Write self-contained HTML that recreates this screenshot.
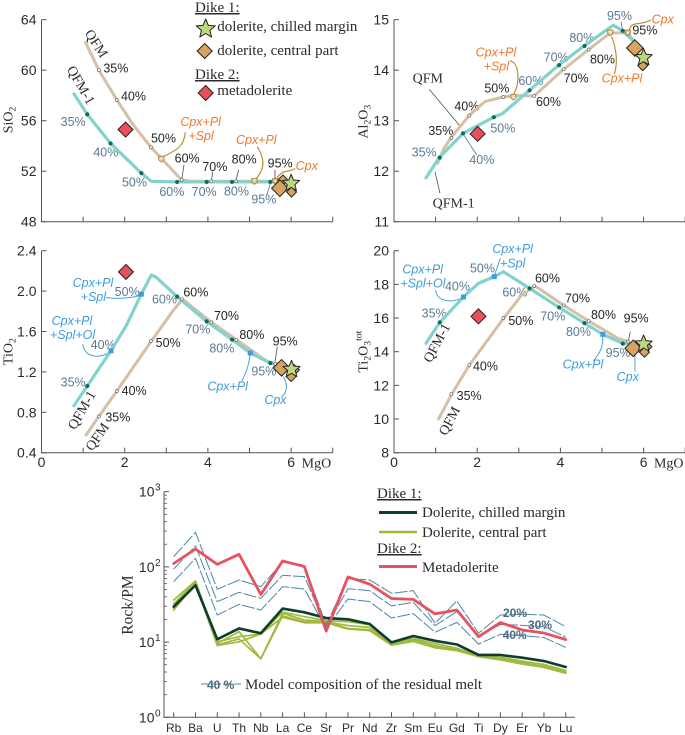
<!DOCTYPE html>
<html><head><meta charset="utf-8"><title>Dike petrochemistry chart</title>
<style>
html,body{margin:0;padding:0;background:#fff;width:685px;height:735px;overflow:hidden}
svg{display:block}
text{font-family:"Liberation Sans",sans-serif}
.s,.s text{font-family:"Liberation Serif",serif;fill:#2b2b2b}
.k text{font-size:37.5px;fill:#262626}
.g text{font-size:37.5px;fill:#5b7a92}
.o text{font-size:37.5px;font-style:italic;fill:#f0782d}
.b text{font-size:37.5px;font-style:italic;fill:#3e9ddb}
.n{font-family:"Liberation Serif",serif;font-size:42px;fill:#2b2b2b}
.brown{fill:none;stroke:#b98a33;stroke-width:3.5}
.blue{fill:none;stroke:#4aa3dc;stroke-width:3}
.thin{fill:none;stroke:#555;stroke-width:2.5}
.thing{fill:none;stroke:#5b7a92;stroke-width:2.5}
</style></head>
<body>
<svg id="chart" xmlns="http://www.w3.org/2000/svg" width="685" height="735" viewBox="0 0 685 735">

<!-- top legend -->
<g class="s" font-size="15">
<text x="195" y="12" text-decoration="underline">Dike 1:</text>
<text x="217.3" y="31">dolerite, chilled margin</text>
<text x="217.3" y="55">dolerite, central part</text>
<text x="195" y="79" text-decoration="underline">Dike 2:</text>
<text x="217.3" y="95">metadolerite</text>
</g>

<!-- SiO2 annotations -->
<g transform="scale(.33333)">
<text class="n" transform="translate(38,360) rotate(-90)" text-anchor="middle">SiO<tspan font-size="29" dy="8">2</tspan></text>
<text class="n" transform="translate(278,138) rotate(57)" text-anchor="middle">QFM</text>
<text class="n" transform="translate(231,262) rotate(60)" text-anchor="middle">QFM-1</text>
<path class="brown" d="M490 470C530 450 552 440 556 397"/>
<path class="brown" d="M768 537C800 500 790 470 772 440"/>
<path class="brown" d="M830 535C850 505 865 520 885 505"/>
<path class="thin" d="M545 540L552 495M635 540L638 515M708 540L716 510M825 540L825 510"/>
<path class="thing" d="M812 548L800 585"/>
<g class="k">
<text x="310" y="218">35%</text><text x="363" y="302">40%</text><text x="453" y="427">50%</text><text x="524" y="487">60%</text><text x="607" y="513">70%</text><text x="695" y="490">80%</text><text x="803" y="503">95%</text></g>
<g class="g">
<text x="182" y="378">35%</text><text x="280" y="470">40%</text><text x="366" y="560">50%</text><text x="478" y="588">60%</text><text x="575" y="588">70%</text><text x="672" y="586">80%</text><text x="754" y="610">95%</text></g>
<g class="o">
<text x="541" y="378">Cpx+Pl</text><text x="565" y="420">+Spl</text><text x="708" y="432">Cpx+Pl</text><text x="887" y="510">Cpx</text></g>
</g>

<!-- Al2O3 annotations -->
<g transform="translate(345,0) scale(.33333)">
<text class="n" transform="translate(68,365) rotate(-90)" text-anchor="middle">Al<tspan font-size="29" dy="8">2</tspan><tspan dy="-8">O</tspan><tspan font-size="29" dy="8">3</tspan></text>
<text class="n" x="203" y="248">QFM</text>
<text class="n" x="263" y="622">QFM-1</text>
<path class="thin" d="M253 268L345 378M270 515L285 580"/>
<path class="thing" d="M354 401L395 465M833 94L828 65"/>
<path class="brown" d="M505 285C525 250 525 190 495 182"/>
<path class="brown" d="M800 110C815 150 818 190 808 222"/>
<path class="brown" d="M852 92C860 60 880 80 918 60"/>
<g class="k">
<text x="250" y="405">35%</text><text x="328" y="332">40%</text><text x="418" y="277">50%</text><text x="573" y="318">60%</text><text x="656" y="248">70%</text><text x="735" y="190">80%</text><text x="862" y="104">95%</text></g>
<g class="g">
<text x="200" y="470">35%</text><text x="373" y="492">40%</text><text x="436" y="397">50%</text><text x="520" y="255">60%</text><text x="596" y="185">70%</text><text x="673" y="126">80%</text><text x="786" y="60">95%</text></g>
<g class="o">
<text x="392" y="170">Cpx+Pl</text><text x="416" y="212">+Spl</text><text x="770" y="248">Cpx+Pl</text><text x="920" y="70">Cpx</text></g>
</g>

<!-- TiO2 annotations -->
<g transform="translate(0,235) scale(.33333)">
<text class="n" transform="translate(38,350) rotate(-90)" text-anchor="middle">TiO<tspan font-size="29" dy="8">2</tspan></text>
<text class="n" transform="translate(257,532) rotate(-60)" text-anchor="middle">QFM-1</text>
<text class="n" transform="translate(303,613) rotate(-55)" text-anchor="middle">QFM</text>
<text class="n" x="905" y="697">MgO</text>
<path class="blue" d="M420 182C390 190 350 192 318 188"/>
<path class="blue" d="M328 352C300 370 255 370 248 328"/>
<path class="blue" d="M750 360C745 400 735 420 725 438"/>
<path class="blue" d="M850 425C865 450 860 475 845 485"/>
<path class="thin" d="M825 380L832 335"/>
<g class="k">
<text x="316" y="560">35%</text><text x="365" y="480">40%</text><text x="467" y="336">50%</text><text x="550" y="184">60%</text><text x="642" y="255">70%</text><text x="718" y="312">80%</text><text x="818" y="332">95%</text></g>
<g class="g">
<text x="182" y="454">35%</text><text x="272" y="342">40%</text><text x="344" y="183">50%</text><text x="456" y="206">60%</text><text x="556" y="296">70%</text><text x="628" y="352">80%</text><text x="754" y="422">95%</text></g>
<g class="b">
<text x="218" y="156">Cpx+Pl</text><text x="242" y="198">+Spl</text><text x="155" y="270">Cpx+Pl</text><text x="150" y="312">+Spl+Ol</text><text x="622" y="466">Cpx+Pl</text><text x="793" y="507">Cpx</text></g>
</g>

<!-- Ti2O3 annotations -->
<g transform="translate(345,235) scale(.33333)">
<text class="n" transform="translate(68,350) rotate(-90)" text-anchor="middle">Ti<tspan font-size="29" dy="8">2</tspan><tspan dy="-8">O</tspan><tspan font-size="29" dy="8">3</tspan><tspan font-size="29" dy="-26">tot</tspan></text>
<text class="n" transform="translate(287,330) rotate(-62)" text-anchor="middle">QFM-1</text>
<text class="n" transform="translate(325,564) rotate(-62)" text-anchor="middle">QFM</text>
<text class="n" x="927" y="697">MgO</text>
<path class="blue" d="M448 122L466 70"/>
<path class="blue" d="M352 188C320 205 275 200 272 165"/>
<path class="blue" d="M773 305C775 340 760 360 745 378"/>
<path class="blue" d="M870 345L870 410"/>
<path class="thin" d="M850 318L856 290"/>
<g class="k">
<text x="335" y="495">35%</text><text x="384" y="407">40%</text><text x="490" y="270">50%</text><text x="570" y="142">60%</text><text x="660" y="203">70%</text><text x="738" y="252">80%</text><text x="836" y="263">95%</text></g>
<g class="g">
<text x="230" y="247">35%</text><text x="300" y="166">40%</text><text x="375" y="112">50%</text><text x="472" y="185">60%</text><text x="586" y="257">70%</text><text x="663" y="303">80%</text><text x="782" y="366">95%</text></g>
<g class="b">
<text x="442" y="54">Cpx+Pl</text><text x="465" y="98">+Spl</text><text x="172" y="115">Cpx+Pl</text><text x="166" y="157">+Spl+Ol</text><text x="653" y="401">Cpx+Pl</text><text x="815" y="438">Cpx</text></g>
</g>

<!-- spider legend & labels -->
<g class="s" font-size="15">
<text x="377" y="498" text-decoration="underline">Dike 1:</text>
<line x1="379" x2="417" y1="512.5" y2="512.5" stroke="#0d3d2e" stroke-width="3"/>
<text x="422" y="517">Dolerite, chilled margin</text>
<line x1="379" x2="417" y1="532" y2="532" stroke="#9db83a" stroke-width="2.5"/>
<text x="422" y="537">Dolerite, central part</text>
<text x="377" y="553" text-decoration="underline">Dike 2:</text>
<line x1="379" x2="417" y1="566.5" y2="566.5" stroke="#e8525e" stroke-width="3"/>
<text x="422" y="572">Metadolerite</text>
<text x="245" y="689">Model composition of the residual melt</text>
<text transform="translate(132.5,605) rotate(-90)" text-anchor="middle" font-size="15.5">Rock/PM</text>
</g>
<line x1="201" x2="241" y1="684" y2="684" stroke="#4d86a5" stroke-width="1" stroke-dasharray="9 2"/>

<g id="marks"></g>

<g font-family="Liberation Sans" font-size="12" font-weight="bold" fill="#4a6a80">
<text x="207" y="689">40 %</text>
<text x="503" y="617">20%</text>
<text x="528" y="629">30%</text>
<text x="502.7" y="639">40%</text>
</g>

<g class="s" font-size="14.5" id="legendSymbols"></g>
</svg>

<script>
// shared x values: MgO of the crystallisation steps
const qfmStepMgo = [1.38, 1.81, 2.63, 3.37, 4.08, 4.68, 5.62];
const qfm1StepMgo = [1.1, 1.66, 2.4, 3.26, 3.97, 4.58, 5.5];
const xTickValues = [0, 1, 2, 3, 4, 5, 6, 7];
const xTickLabels = ['0', '', '2', '', '4', '', '6', ''];

// SiO2 panel
const sio2Ticks = [48, 52, 56, 60, 64];
const sio2QfmMgo = [1.06, 1.38, 1.81, 2.2, 2.63, 3.0, 3.37, 3.6, 4.08, 4.68, 5.62];
const sio2QfmVal = [62.2, 60.0, 57.65, 55.7, 53.9, 52.6, 51.3, 51.2, 51.2, 51.2, 51.2];
const sio2QfmSteps = [60.0, 57.65, 53.9, 51.3, 51.2, 51.2, 51.2];
const sio2Qfm1Mgo = [0.78, 1.1, 1.66, 2.4, 2.64, 3.26, 3.97, 4.58, 5.5, 5.8];
const sio2Qfm1Val = [58.13, 56.5, 54.2, 51.85, 51.2, 51.15, 51.15, 51.15, 51.15, 51.15];
const sio2Qfm1Steps = [56.5, 54.2, 51.85, 51.15, 51.15, 51.15, 51.15];
const sio2MineralMgo = [2.88, 5.12, 5.62];
const sio2MineralVal = [52.97, 51.2, 51.2];
const sio2CentralMgo = [5.8, 6.01, 5.73];
const sio2CentralVal = [51.3, 50.35, 50.65];
const sio2ChilledMgo = [6.0];
const sio2ChilledVal = [51.04];
const sio2MetaMgo = [2.02];
const sio2MetaVal = [55.3];

// Al2O3 panel
const al2o3Ticks = [11, 12, 13, 14, 15];
const al2o3QfmMgo = [1.05, 1.2, 1.37, 1.8, 2.19, 2.63, 3.0, 3.37, 4.08, 4.68, 5.2, 5.62, 5.8];
const al2o3QfmVal = [12.16, 12.45, 12.66, 13.1, 13.38, 13.47, 13.5, 13.49, 14.02, 14.41, 14.74, 14.74, 14.54];
const al2o3QfmSteps = [12.66, 13.1, 13.47, 13.49, 14.02, 14.41, 14.74];
const al2o3Qfm1Mgo = [0.77, 1.09, 1.66, 2.4, 2.61, 3.25, 3.96, 4.57, 5.27, 5.5, 5.8];
const al2o3Qfm1Val = [11.87, 12.27, 12.75, 13.07, 13.14, 13.6, 14.1, 14.48, 14.89, 14.78, 14.54];
const al2o3Qfm1Steps = [12.27, 12.75, 13.07, 13.6, 14.1, 14.48, 14.78];
const al2o3MineralMgo = [2.87, 5.2, 5.62];
const al2o3MineralVal = [13.47, 14.74, 14.74];
const al2o3CentralMgo = [5.98, 5.79];
const al2o3CentralVal = [14.09, 14.44];
const al2o3ChilledMgo = [6.0];
const al2o3ChilledVal = [14.25];
const al2o3MetaMgo = [2.01];
const al2o3MetaVal = [12.74];

// TiO2 panel
const tio2Ticks = [0.4, 0.8, 1.2, 1.6, 2.0, 2.4];
const tio2QfmMgo = [1.07, 1.38, 1.81, 2.64, 3.17, 3.39, 4.09, 4.7, 5.4, 5.73];
const tio2QfmVal = [0.575, 0.76, 1.01, 1.505, 1.81, 1.92, 1.69, 1.515, 1.31, 1.27];
const tio2QfmSteps = [0.76, 1.01, 1.505, 1.92, 1.69, 1.515, 1.28];
const tio2Qfm1Mgo = [0.78, 1.1, 1.67, 2.04, 2.4, 2.64, 2.76, 3.26, 3.97, 4.58, 5.02, 5.5, 5.73];
const tio2Qfm1Val = [0.865, 1.06, 1.41, 1.66, 1.97, 2.16, 2.136, 1.945, 1.7, 1.52, 1.387, 1.287, 1.26];
const tio2Qfm1Steps = [1.06, 1.41, 1.97, 1.945, 1.7, 1.52, 1.287];
const tio2MineralMgo = [1.67, 2.4, 5.02];
const tio2MineralVal = [1.41, 1.97, 1.387];
const tio2CentralMgo = [6.08, 6.0, 5.77];
const tio2CentralVal = [1.22, 1.154, 1.24];
const tio2ChilledMgo = [6.01];
const tio2ChilledVal = [1.226];
const tio2MetaMgo = [2.03];
const tio2MetaVal = [2.19];

// Ti2O3 tot panel
const ti2o3Ticks = [8, 10, 12, 14, 16, 18, 20];
const ti2o3QfmMgo = [1.07, 1.39, 1.81, 2.64, 3.07, 3.39, 4.08, 4.68, 5.39, 5.63];
const ti2o3QfmVal = [10.0, 11.49, 13.2, 16.0, 17.37, 17.9, 16.75, 15.82, 14.79, 14.6];
const ti2o3QfmSteps = [11.49, 13.2, 16.0, 17.9, 16.75, 15.82, 14.6];
const ti2o3Qfm1Mgo = [0.77, 1.1, 1.67, 2.03, 2.41, 2.63, 3.26, 3.97, 4.58, 5.02, 5.51, 5.75];
const ti2o3Qfm1Val = [14.5, 15.74, 17.25, 18.06, 18.46, 18.75, 17.76, 16.63, 15.7, 15.03, 14.48, 14.45];
const ti2o3Qfm1Steps = [15.74, 17.25, 18.46, 17.76, 16.63, 15.7, 14.48];
const ti2o3MineralMgo = [1.67, 2.41, 5.02];
const ti2o3MineralVal = [17.25, 18.46, 15.03];
const ti2o3CentralMgo = [6.08, 6.02, 5.75];
const ti2o3CentralVal = [14.3, 13.97, 14.2];
const ti2o3ChilledMgo = [6.0];
const ti2o3ChilledVal = [14.46];
const ti2o3MetaMgo = [2.03];
const ti2o3MetaVal = [16.1];

// Spider diagram
const elements = ['Rb','Ba','U','Th','Nb','La','Ce','Sr','Pr','Nd','Zr','Sm','Eu','Gd','Ti','Dy','Er','Yb','Lu'];
const logDecades = [1, 10, 100, 1000];
const chilledMargin = [29.6,57,10.9,15.2,13.1,27.9,24.9,20.9,20.1,17.4,9.9,12.05,10.4,9.3,6.74,6.74,6.2,5.6,4.67];
const centralA = [36.3,65,10.1,11.8,12.8,25.1,21.8,19.3,18.7,17,9.6,11.2,9.6,8.3,6.6,6.3,5.6,5.05,4.2];
const centralB = [26.7,60.4,9.0,10.1,12.8,21.4,18.1,18.1,14.9,14.2,9.1,10.2,8.4,7.7,6.4,5.8,5.1,4.6,3.85];
const centralC = [32.1,63.6,9.6,13.8,6.0,24.1,19.7,18.7,16.6,15.7,9.3,10.7,9.0,7.85,6.5,6.0,5.3,4.8,4.0];
const centralD = [28,62,9.2,11,6.0,22.4,18.6,18.7,15.2,14.6,9.4,10.9,8.8,8.0,6.5,6.1,5.4,4.7,3.95];
const metadolerite = [111,173,108,147,43,120,101,14,73.5,59,38,37,23.7,26.7,11.8,18.2,14.5,13.2,10.8];
const model20 = [137,288,50.4,67,54.6,115,106,16.9,69.7,67,44.5,48.3,17.8,35.2,13.1,22.9,23.4,22.9,16];
const model30 = [93.8,190,34.5,45.9,38.2,77.3,74.2,16,51.3,48.3,30.2,33.8,16.6,25.4,12.05,17.2,16.7,16,11.6];
const model40 = [63.7,130,22.9,31.8,26.7,54.6,50.8,15.2,37.4,34.5,20.9,23.9,13.5,18.3,9.4,12.7,12.2,11.5,8.5];

const NS = 'http://www.w3.org/2000/svg';
const marks = document.getElementById('marks');
const legendSymbols = document.getElementById('legendSymbols');
const AXIS = '#555';

function el(parent, tag, attrs, name) {
  const e = document.createElementNS(NS, tag);
  for (const k in attrs) e.setAttribute(k, attrs[k]);
  
  
  parent.appendChild(e);
  return e;
}
function polyline(parent, pts, color, width, name, dash) {
  const attrs = {points: pts.map(p => p[0].toFixed(2) + ',' + p[1].toFixed(2)).join(' '), fill: 'none', stroke: color, 'stroke-width': width, 'stroke-linejoin': 'round', 'stroke-linecap': 'round'};
  if (dash) { attrs['stroke-dasharray'] = dash; attrs['stroke-linecap'] = 'butt'; }
  return el(parent, 'polyline', attrs, name);
}
function star(parent, cx, cy, R, name) {
  const pts = [];
  for (let i = 0; i < 10; i++) {
    const r = i % 2 ? R * 0.45 : R, a = -Math.PI / 2 + i * Math.PI / 5;
    pts.push((cx + r * Math.cos(a)).toFixed(2) + ',' + (cy + r * Math.sin(a)).toFixed(2));
  }
  return el(parent, 'polygon', {points: pts.join(' '), fill: '#bcd77d', stroke: '#222', 'stroke-width': 1, 'stroke-linejoin': 'round'}, name);
}
function diamond(parent, cx, cy, r, fill, name) {
  const pts = [[cx, cy - r], [cx + r, cy], [cx, cy + r], [cx - r, cy]].map(p => p.join(',')).join(' ');
  return el(parent, 'polygon', {points: pts, fill: fill, stroke: '#222', 'stroke-width': 1}, name);
}

function drawPanel(p) {
  const X = v => p.x0 + v * 41.6;
  const Y = v => p.yBottom - (v - p.ticks[0]) / (p.ticks[p.ticks.length - 1] - p.ticks[0]) * 202;
  const g = el(marks, 'g', {}, p.name + '-panel');
  const axW = X(7);
  el(g, 'path', {d: 'M' + p.x0 + ' ' + Y(p.ticks[p.ticks.length - 1]) + 'V' + p.yBottom + 'H' + axW, fill: 'none', stroke: AXIS, 'stroke-width': 1}, p.name + '-axes');
  xTickValues.forEach((v, i) => {
    if (i > 0) el(g, 'line', {x1: X(v), x2: X(v), y1: p.yBottom, y2: p.yBottom - 5, stroke: AXIS}, p.name + '-x-tick');
    if (p.xLabels && xTickLabels[i]) {
      const t = el(g, 'text', {x: X(v), y: p.yBottom + 14.5, 'text-anchor': 'middle', 'font-family': 'Liberation Serif', 'font-size': 14, fill: '#2b2b2b'}, p.name + '-x-label');
      t.textContent = xTickLabels[i];
    }
  });
  p.ticks.forEach(v => {
    el(g, 'line', {x1: p.x0, x2: p.x0 + 5, y1: Y(v), y2: Y(v), stroke: AXIS}, p.name + '-y-tick');
    const t = el(g, 'text', {x: p.x0 - 5, y: Y(v) + 5, 'text-anchor': 'end', 'font-family': 'Liberation Serif', 'font-size': 14, fill: '#2b2b2b'}, p.name + '-y-label');
    t.textContent = p.tickDigits ? v.toFixed(p.tickDigits) : String(v);
  });
  polyline(g, p.qfmMgo.map((m, i) => [X(m), Y(p.qfmVal[i])]), '#d6bfa7', 3, p.name + '-qfm-line');
  polyline(g, p.qfm1Mgo.map((m, i) => [X(m), Y(p.qfm1Val[i])]), '#82d2cd', 3.2, p.name + '-qfm1-line');
  qfmStepMgo.forEach((m, i) => {
    el(g, 'circle', {cx: X(m), cy: Y(p.qfmSteps[i]), r: 1.5, fill: '#fff', stroke: '#666', 'stroke-width': 0.7}, p.name + '-qfm-step');
  });
  qfm1StepMgo.forEach((m, i) => {
    el(g, 'circle', {cx: X(m), cy: Y(p.qfm1Steps[i]), r: 2.1, fill: '#0b6f60'}, p.name + '-qfm1-step');
  });
  p.mineralMgo.forEach((m, i) => {
    const cx = X(m), cy = Y(p.mineralVal[i]);
    if (p.blue) {
      el(g, 'rect', {x: cx - 2.5, y: cy - 2.5, width: 5, height: 5, fill: '#3e9ddb'}, p.name + '-mineral-change');
    } else {
      const pts = [[cx - 2.6, cy - 2.6], [cx + 2.6, cy - 2.6], [cx + 2.6, cy + 0.8], [cx, cy + 3], [cx - 2.6, cy + 0.8]].map(q => q.join(',')).join(' ');
      el(g, 'polygon', {points: pts, fill: '#fff', 'fill-opacity': 0.4, stroke: '#b98a33', 'stroke-width': 1.1}, p.name + '-mineral-change');
    }
  });
  p.centralMgo.forEach((m, i) => {
    diamond(g, X(m), Y(p.centralVal[i]), i === p.centralMgo.length - 1 ? 8.3 : 5, '#d9a35f', p.name + '-central-part-point');
  });
  p.chilledMgo.forEach((m, i) => {
    star(g, X(m), Y(p.chilledVal[i]), 9, p.name + '-chilled-margin-point');
  });
  p.metaMgo.forEach((m, i) => {
    diamond(g, X(m), Y(p.metaVal[i]), 7.5, '#e8505c', p.name + '-metadolerite-point');
  });
}

drawPanel({name: 'sio2', x0: 41.5, yBottom: 221.7, ticks: sio2Ticks, tickDigits: 0, xLabels: false, blue: false,
  qfmMgo: sio2QfmMgo, qfmVal: sio2QfmVal, qfmSteps: sio2QfmSteps, qfm1Mgo: sio2Qfm1Mgo, qfm1Val: sio2Qfm1Val, qfm1Steps: sio2Qfm1Steps,
  mineralMgo: sio2MineralMgo, mineralVal: sio2MineralVal, centralMgo: sio2CentralMgo, centralVal: sio2CentralVal, chilledMgo: sio2ChilledMgo, chilledVal: sio2ChilledVal, metaMgo: sio2MetaMgo, metaVal: sio2MetaVal});
drawPanel({name: 'al2o3', x0: 394, yBottom: 221.7, ticks: al2o3Ticks, tickDigits: 0, xLabels: false, blue: false,
  qfmMgo: al2o3QfmMgo, qfmVal: al2o3QfmVal, qfmSteps: al2o3QfmSteps, qfm1Mgo: al2o3Qfm1Mgo, qfm1Val: al2o3Qfm1Val, qfm1Steps: al2o3Qfm1Steps,
  mineralMgo: al2o3MineralMgo, mineralVal: al2o3MineralVal, centralMgo: al2o3CentralMgo, centralVal: al2o3CentralVal, chilledMgo: al2o3ChilledMgo, chilledVal: al2o3ChilledVal, metaMgo: al2o3MetaMgo, metaVal: al2o3MetaVal});
drawPanel({name: 'tio2', x0: 41.5, yBottom: 452.7, ticks: tio2Ticks, tickDigits: 1, xLabels: true, blue: true,
  qfmMgo: tio2QfmMgo, qfmVal: tio2QfmVal, qfmSteps: tio2QfmSteps, qfm1Mgo: tio2Qfm1Mgo, qfm1Val: tio2Qfm1Val, qfm1Steps: tio2Qfm1Steps,
  mineralMgo: tio2MineralMgo, mineralVal: tio2MineralVal, centralMgo: tio2CentralMgo, centralVal: tio2CentralVal, chilledMgo: tio2ChilledMgo, chilledVal: tio2ChilledVal, metaMgo: tio2MetaMgo, metaVal: tio2MetaVal});
drawPanel({name: 'ti2o3', x0: 394, yBottom: 452.7, ticks: ti2o3Ticks, tickDigits: 0, xLabels: true, blue: true,
  qfmMgo: ti2o3QfmMgo, qfmVal: ti2o3QfmVal, qfmSteps: ti2o3QfmSteps, qfm1Mgo: ti2o3Qfm1Mgo, qfm1Val: ti2o3Qfm1Val, qfm1Steps: ti2o3Qfm1Steps,
  mineralMgo: ti2o3MineralMgo, mineralVal: ti2o3MineralVal, centralMgo: ti2o3CentralMgo, centralVal: ti2o3CentralVal, chilledMgo: ti2o3ChilledMgo, chilledVal: ti2o3ChilledVal, metaMgo: ti2o3MetaMgo, metaVal: ti2o3MetaVal});

// spider diagram
(function () {
  const g = el(marks, 'g', {}, 'spider-panel');
  const L = 164, R = 575, B = 717.3, DEC = 75.2;
  const X = i => 173.7 + i * 21.78;
  const Y = v => B - Math.log10(v) * DEC;
  el(g, 'path', {d: 'M' + L + ' ' + Y(1000) + 'V' + B + 'H' + R, fill: 'none', stroke: AXIS}, 'spider-axes');
  logDecades.forEach((d, i) => {
    el(g, 'line', {x1: L, x2: L + 5, y1: Y(d), y2: Y(d), stroke: AXIS}, 'spider-major-tick');
    const t = el(g, 'text', {x: L - 9.5, y: Y(d) + 5, 'text-anchor': 'end', 'font-family': 'Liberation Serif', 'font-size': 14, fill: '#2b2b2b'}, 'spider-y-label');
    t.textContent = '10';
    const s = el(g, 'text', {x: L - 9, y: Y(d) - 1, 'font-family': 'Liberation Serif', 'font-size': 10, fill: '#2b2b2b'}, 'spider-y-label-exponent');
    s.textContent = String(i);
    if (i < 3) for (let m = 2; m < 10; m++) {
      el(g, 'line', {x1: L, x2: L + 3, y1: Y(d * m), y2: Y(d * m), stroke: AXIS, 'stroke-width': 0.8}, 'spider-minor-tick');
    }
  });
  elements.forEach((e, i) => {
    el(g, 'line', {x1: X(i), x2: X(i), y1: B, y2: B - 5, stroke: AXIS}, 'spider-x-tick');
    const t = el(g, 'text', {x: X(i), y: 732, 'text-anchor': 'middle', 'font-family': 'Liberation Serif', 'font-size': 12, fill: '#2b2b2b'}, 'spider-x-label-' + e);
    t.textContent = e;
  });
  [centralA, centralB, centralC, centralD].forEach((s, k) => {
    polyline(g, s.map((v, i) => [X(i), Y(v)]), '#9fba3d', 1.7, 'central-part-line-' + (k + 1));
  });
  [model20, model30, model40].forEach((s, k) => {
    polyline(g, s.map((v, i) => [X(i), Y(v)]), '#4d86a5', 1, 'model-melt-line-' + (20 + k * 10), '13 2');
  });
  polyline(g, chilledMargin.map((v, i) => [X(i), Y(v)]), '#0d3d2e', 2.6, 'chilled-margin-line');
  polyline(g, metadolerite.map((v, i) => [X(i), Y(v)]), '#e8525e', 2.8, 'metadolerite-line');
})();

// legend symbols
star(legendSymbols, 205.7, 29, 10, 'legend-star-chilled');
diamond(legendSymbols, 204.7, 51, 7.5, '#d9a35f', 'legend-diamond-central');
diamond(legendSymbols, 205.7, 93, 7.5, '#e8505c', 'legend-diamond-metadolerite');
</script>
</body></html>
